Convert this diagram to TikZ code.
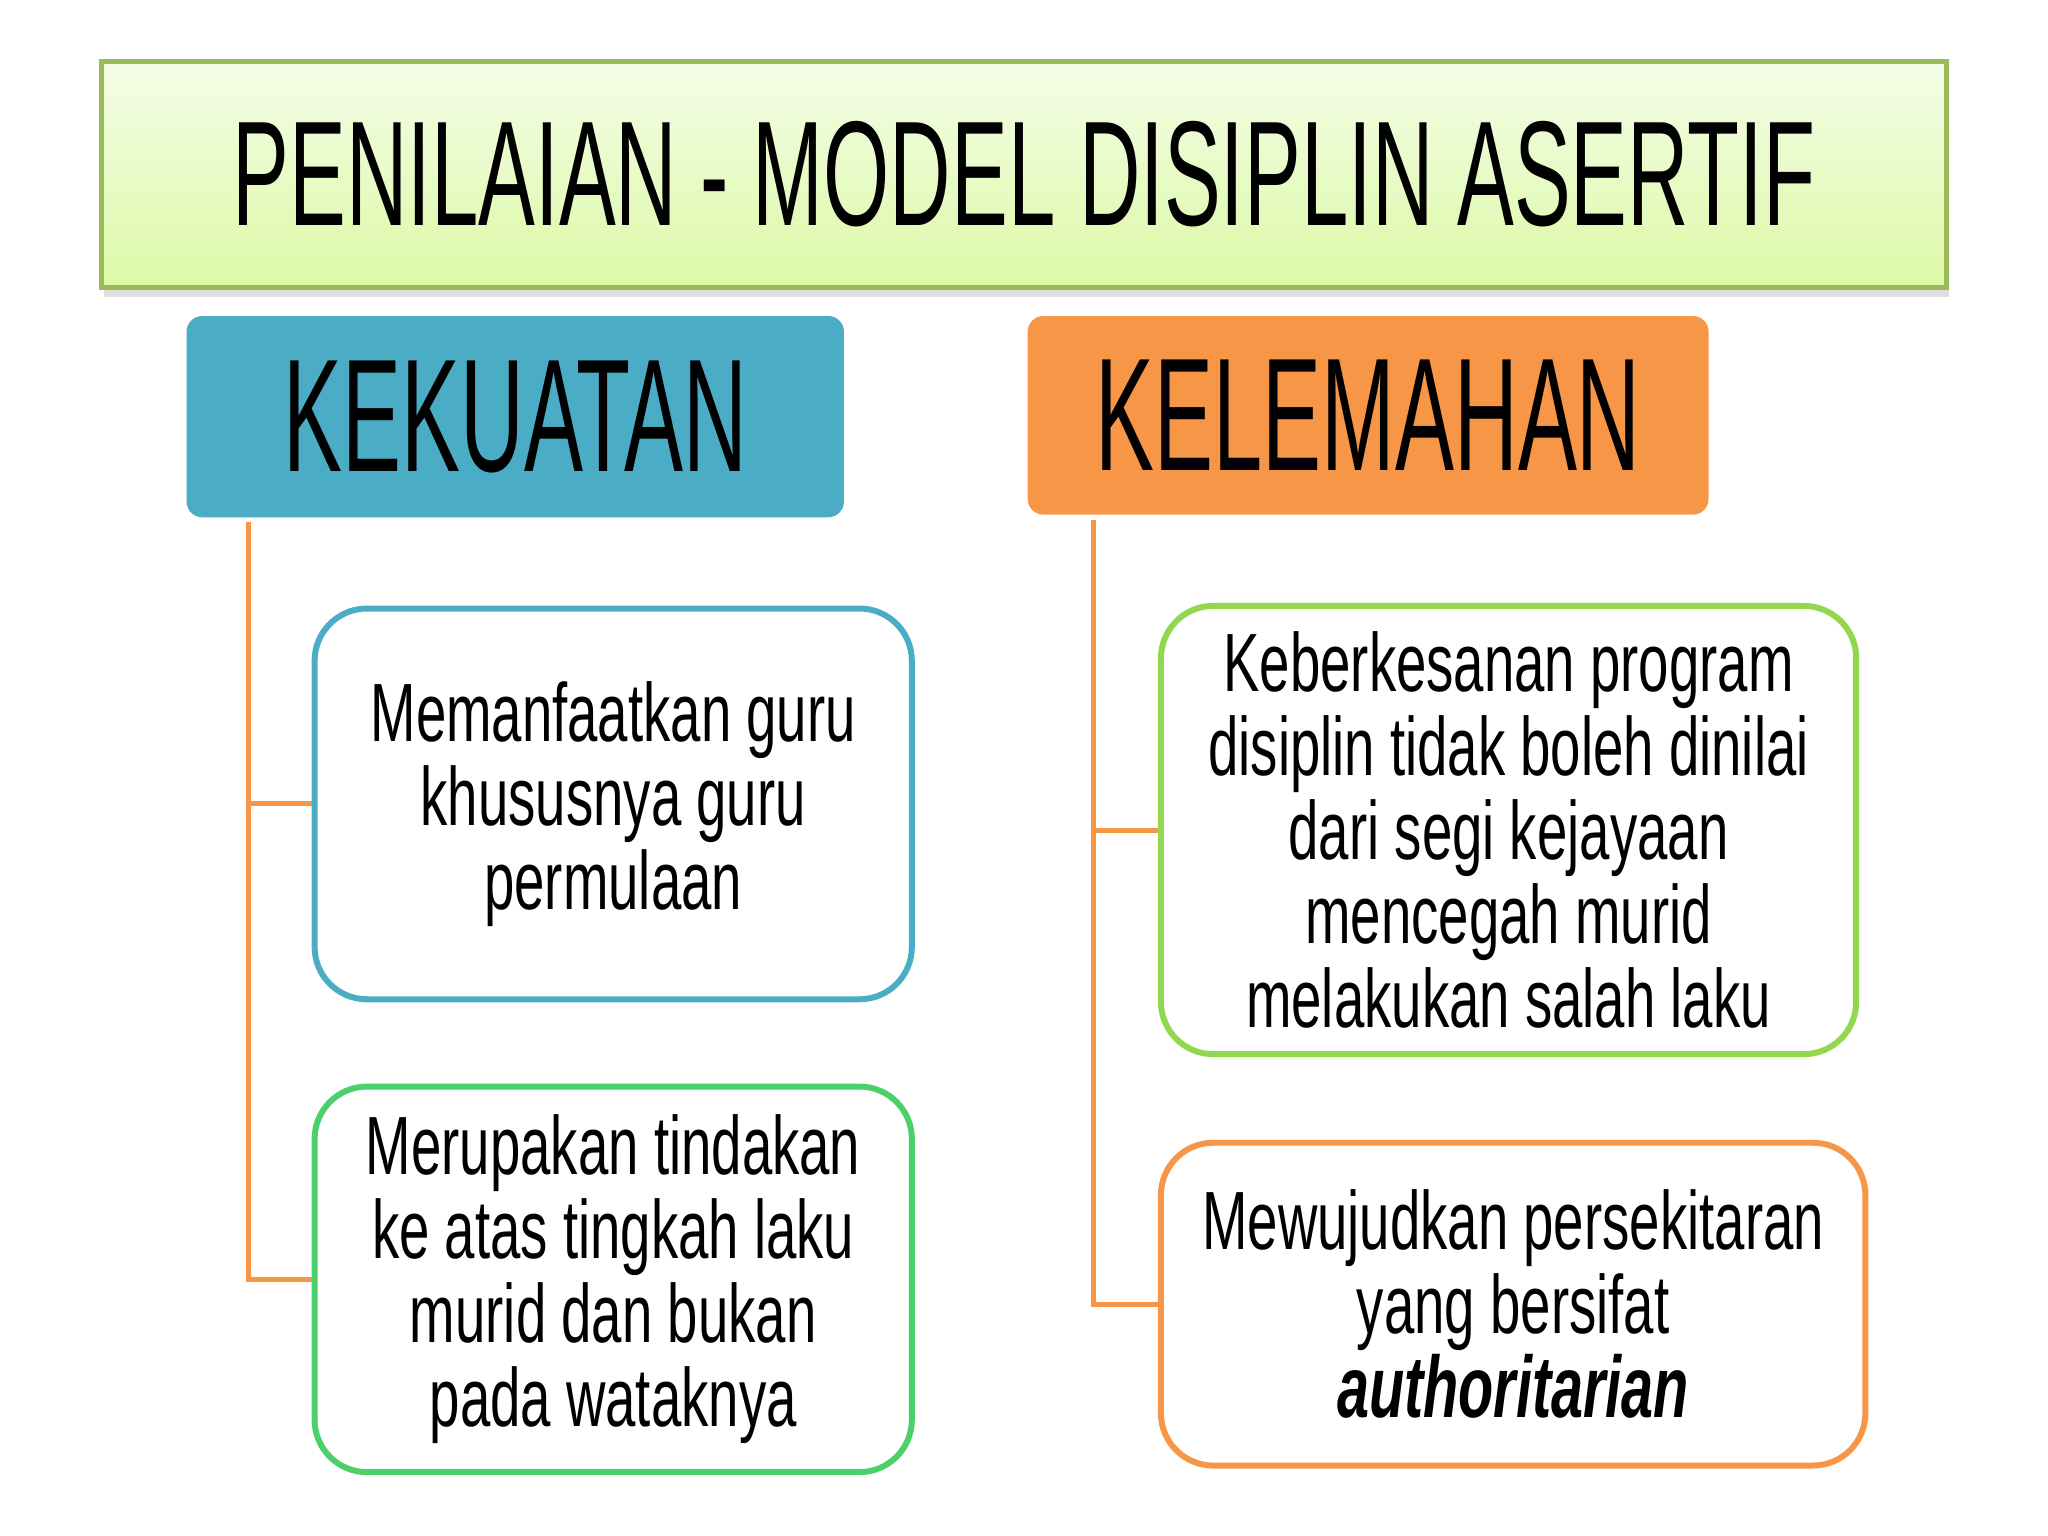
\documentclass[tikz,border=0pt]{standalone}
\usepackage{fontspec}
\usepackage{xcolor}
\usepackage{tikz}
\usetikzlibrary{positioning, shapes, arrows.meta, calc, fit, backgrounds}
\usetikzlibrary{shadows}

\newfontfamily\headfont[FakeStretch=0.55]{Liberation Sans}
\newfontfamily\titlefont[FakeStretch=0.57]{Liberation Sans}
\newfontfamily\bodyfont[FakeStretch=0.66]{Liberation Sans}

\definecolor{titleline}{HTML}{9BBB59}
\definecolor{titletop}{HTML}{F4FDE8}
\definecolor{titlebot}{HTML}{DCF9A6}
\definecolor{kuatblue}{HTML}{4BACC6}
\definecolor{lemahorange}{HTML}{F79646}
\definecolor{boxgreen}{HTML}{4CD06B}
\definecolor{boxlime}{HTML}{92D84E}

\tikzset{
    headbox/.style={rounded corners=0.12cm, inner sep=0pt, text=black,
        font=\headfont\fontsize{35}{35}\selectfont},
    itembox/.style={draw, line width=1.3pt, rounded corners=0.4cm, fill=white,
        inner sep=0pt, align=center, text=black,
        font=\bodyfont\fontsize{18}{18.3}\selectfont},
    branch/.style={draw=lemahorange, line width=1.1pt}
}

\begin{document}
\begin{tikzpicture}[x=0.01cm, y=-0.01cm]
    \useasboundingbox[fill=white] (0,0) rectangle (1568,1176);

    \node[draw=titleline, line width=1pt, top color=titletop, bottom color=titlebot,
          drop shadow={opacity=0.25, shadow xshift=0.6pt, shadow yshift=-2pt},
          minimum width=14.12cm, minimum height=1.73cm, inner sep=0pt,
          font=\titlefont\fontsize{32.5}{32.5}\selectfont]
        (title) at (784,133.5) {PENILAIAN - MODEL DISIPLIN ASERTIF};

    \node[headbox, fill=kuatblue, minimum width=5.03cm, minimum height=1.54cm]
        (kekuatan) at (394.5,319) {KEKUATAN};
    \node[headbox, fill=lemahorange, minimum width=5.21cm, minimum height=1.52cm]
        (kelemahan) at (1047.5,318) {KELEMAHAN};

    \node[itembox, draw=kuatblue, minimum width=4.57cm, minimum height=2.99cm]
        (guru) at (469.5,615.5) {Memanfaatkan guru\\khususnya guru\\permulaan};
    \node[itembox, draw=boxgreen, minimum width=4.57cm, minimum height=2.95cm]
        (tindakan) at (469.5,979.5) {Merupakan tindakan\\ke atas tingkah laku\\murid dan bukan\\pada wataknya};

    \node[itembox, draw=boxlime, minimum width=5.32cm, minimum height=3.43cm]
        (keberkesanan) at (1155,635.5) {Keberkesanan program\\disiplin tidak boleh dinilai\\dari segi kejayaan\\mencegah murid\\melakukan salah laku};
    \node[itembox, draw=lemahorange, minimum width=5.39cm, minimum height=2.47cm]
        (persekitaran) at (1158.5,998.5) {Mewujudkan persekitaran\\yang bersifat\\{\fontsize{19}{18.3}\selectfont\textbf{\textit{authoritarian}}}};

    \coordinate (kiri) at (190,400);
    \coordinate (kanan) at (837,398);

    \draw[branch] (kiri) |- (guru.west);
    \draw[branch] (kiri) |- (tindakan.west);
    \draw[branch] (kanan) |- (keberkesanan.west);
    \draw[branch] (kanan) |- (persekitaran.west);
\end{tikzpicture}
\end{document}
